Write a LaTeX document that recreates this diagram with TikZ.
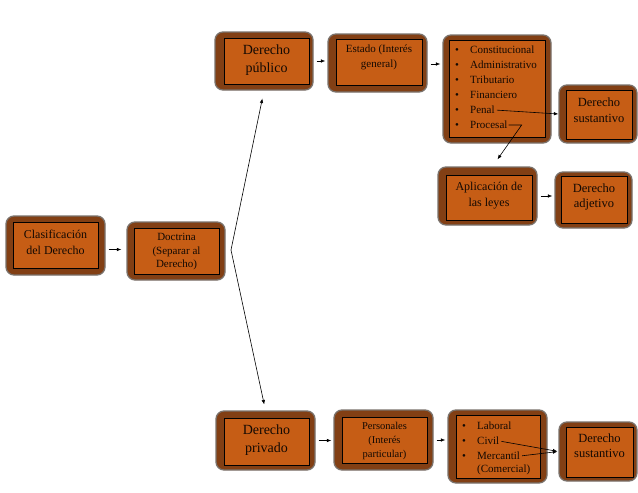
\documentclass[tikz,border=0pt]{standalone}
\usepackage{fontspec}
\setmainfont{Liberation Serif}
\usetikzlibrary{arrows.meta,calc}

\definecolor{cafe}{HTML}{823F14}
\definecolor{naranja}{HTML}{C65D15}
\definecolor{borde}{HTML}{7A726C}

\begin{document}
\begin{tikzpicture}[x=1pt,y=-1pt,>={Latex[length=4.5pt,width=3.5pt]},
  outerbox/.style={draw=borde,line width=1.3pt,fill=cafe,rounded corners=8pt,inner sep=0pt},
  innerbox/.style={draw=black,line width=0.8pt,fill=naranja,inner sep=0pt},
  txt/.style={align=center,inner sep=0pt,text=black!85!cafe},
  item/.style={anchor=west,inner sep=0pt,text=black!85!cafe,font=\fontsize{11}{14}\selectfont},
  flecha/.style={->,line width=0.6pt,shorten <=3pt,shorten >=2pt}
]

\useasboundingbox (0,0) rectangle (638,493);

% Clasificacion
\node[outerbox,minimum width=99,minimum height=59] (clasO) at (55.5,245.5) {};
\node[innerbox,minimum width=85,minimum height=46] (clasI) at (55.5,245) {};
\node[txt,font=\fontsize{12}{16}\selectfont] (clas) at (55.5,242) {Clasificación\\del Derecho};

% Doctrina
\node[outerbox,minimum width=98,minimum height=58] (docO) at (176,251) {};
\node[innerbox,minimum width=85,minimum height=46] (docI) at (176.5,251) {};
\node[txt,font=\fontsize{11}{13.5}\selectfont] (doc) at (176.5,252) {Doctrina\\(Separar al\\Derecho)};

% Derecho publico
\node[outerbox,minimum width=98,minimum height=58] (pubO) at (264,61) {};
\node[innerbox,minimum width=85,minimum height=46] (pubI) at (266.5,61) {};
\node[txt,font=\fontsize{14}{18}\selectfont] (pub) at (266.5,60) {Derecho\\público};

% Estado
\node[outerbox,minimum width=99,minimum height=58] (estO) at (377.5,63) {};
\node[innerbox,minimum width=86,minimum height=46] (estI) at (379,62) {};
\node[txt,font=\fontsize{11}{15}\selectfont] (est) at (379,57) {Estado (Interés\\general)};

% Ramas publicas
\node[outerbox,minimum width=108,minimum height=108] (listO) at (497,89) {};
\node[innerbox,minimum width=96,minimum height=97] (listI) at (497,88.5) {};
\foreach \t [count=\i] in {Constitucional,Administrativo,Tributario,Financiero,Penal,Procesal}
  \node[item] (it\i) at (455,35+15*\i) {\makebox[15pt][l]{\textbullet}\t};

% Derecho sustantivo (arriba)
\node[outerbox,minimum width=78,minimum height=58] (sus1O) at (598,114) {};
\node[innerbox,minimum width=66,minimum height=49] (sus1I) at (599,114.5) {};
\node[txt,font=\fontsize{12.5}{16}\selectfont] (sus1) at (599,110) {Derecho\\sustantivo};

% Aplicacion
\node[outerbox,minimum width=99,minimum height=58] (aplO) at (487.5,196) {};
\node[innerbox,minimum width=86,minimum height=45] (aplI) at (489,197.5) {};
\node[txt,font=\fontsize{12}{16}\selectfont] (apl) at (489,196) {Aplicación de\\las leyes};

% Derecho adjetivo
\node[outerbox,minimum width=77,minimum height=56] (adjO) at (593.5,200) {};
\node[innerbox,minimum width=66,minimum height=47] (adjI) at (594,200) {};
\node[txt,font=\fontsize{12.5}{15}\selectfont] (adj) at (594,197) {Derecho\\adjetivo};

% Derecho privado
\node[outerbox,minimum width=99,minimum height=59] (privO) at (265.5,440.5) {};
\node[innerbox,minimum width=85,minimum height=47] (privI) at (266.5,441.5) {};
\node[txt,font=\fontsize{14}{18}\selectfont] (priv) at (266.5,440) {Derecho\\privado};

% Personales
\node[outerbox,minimum width=99,minimum height=60] (persO) at (383.5,440) {};
\node[innerbox,minimum width=85,minimum height=46] (persI) at (384.5,440) {};
\node[txt,font=\fontsize{10.5}{14}\selectfont] (pers) at (384.5,441) {Personales\\(Interés\\particular)};

% Ramas privadas
\node[outerbox,minimum width=99,minimum height=73] (labO) at (497.5,446.5) {};
\node[innerbox,minimum width=84,minimum height=63] (labI) at (498,446.5) {};
\node[item] (lab) at (462,426) {\makebox[15pt][l]{\textbullet}Laboral};
\node[item] (civ) at (462,441) {\makebox[15pt][l]{\textbullet}Civil};
\node[item] (mer) at (462,456) {\makebox[15pt][l]{\textbullet}Mercantil};
\node[item] (com) at (477,470) {(Comercial)};

% Derecho sustantivo (abajo)
\node[outerbox,minimum width=78,minimum height=59] (sus2O) at (598,451.5) {};
\node[innerbox,minimum width=67,minimum height=50] (sus2I) at (599.5,452) {};
\node[txt,font=\fontsize{12.5}{15}\selectfont] (sus2) at (599.5,446) {Derecho\\sustantivo};

% Flechas
\draw[flecha,shorten >=5pt] ([yshift=-4pt]clasO.east) -- ([yshift=-4pt]clasO.east -| docO.west);
\coordinate (split) at (231,250);
\draw[->,line width=0.6pt,shorten >=8pt] (split) -- (pubO.south);
\draw[->,line width=0.6pt,shorten >=6pt] (split) -- (privO.north);
\draw[flecha] (pubO.east) -- (pubO.east -| estO.west);
\draw[flecha] ([yshift=-1pt]estO.east) -- ([yshift=-1pt]estO.east -| listO.west);
\draw[->,line width=0.6pt,shorten <=2pt] (it5.east) -- (sus1O.west);
\draw[->,line width=0.6pt] ([xshift=1pt]it6.east) -- ++(13,0) -- ([xshift=10pt,yshift=7pt]aplO.north);
\draw[flecha] (aplO.east) -- (aplO.east -| adjO.west);
\draw[flecha] (privO.east) -- (privO.east -| persO.west);
\draw[flecha] (persO.east) -- (persO.east -| labO.west);
\draw[->,line width=0.6pt,shorten <=2pt,shorten >=1pt] (civ.east) -- (sus2O.west);
\draw[->,line width=0.6pt,shorten <=2pt,shorten >=1pt] (mer.east) -- (sus2O.west);

\end{tikzpicture}
\end{document}
